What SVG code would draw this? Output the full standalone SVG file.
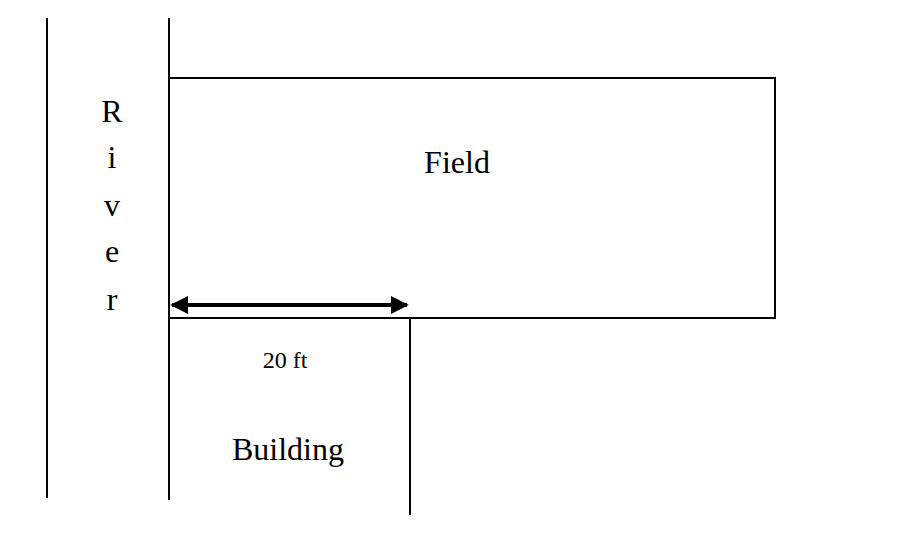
<svg xmlns="http://www.w3.org/2000/svg" width="900" height="554" viewBox="0 0 900 554">
<defs>
<style>
line,rect.b{stroke:#000;stroke-width:2;fill:none}
line.arr{stroke-width:4}
text{font-family:"Liberation Serif",serif;fill:#000;text-anchor:middle}
</style>
<marker id="ah" viewBox="0 0 10 10" refX="9" refY="5" markerWidth="4.5" markerHeight="4.5" orient="auto-start-reverse" markerUnits="strokeWidth"><path d="M0,0L10,5L0,10z" fill="#000"/></marker>
</defs>
<rect width="900" height="554" fill="#fff"/>
<line x1="47" y1="18" x2="47" y2="498"/>
<line x1="169" y1="18" x2="169" y2="500"/>
<rect class="b" x="169" y="78" width="606" height="240"/>
<line x1="410" y1="318" x2="410" y2="515"/>
<line class="arr" x1="172" y1="305" x2="407" y2="305" marker-start="url(#ah)" marker-end="url(#ah)"/>
<text x="112" y="122" font-size="32">R</text>
<text x="112" y="168" font-size="32">i</text>
<text x="112" y="216" font-size="32">v</text>
<text x="112" y="262" font-size="32">e</text>
<text x="112" y="310" font-size="32">r</text>
<text x="457" y="173" font-size="32">Field</text>
<text x="288" y="460" font-size="32">Building</text>
<text x="285" y="368" font-size="24">20 ft</text>
</svg>
